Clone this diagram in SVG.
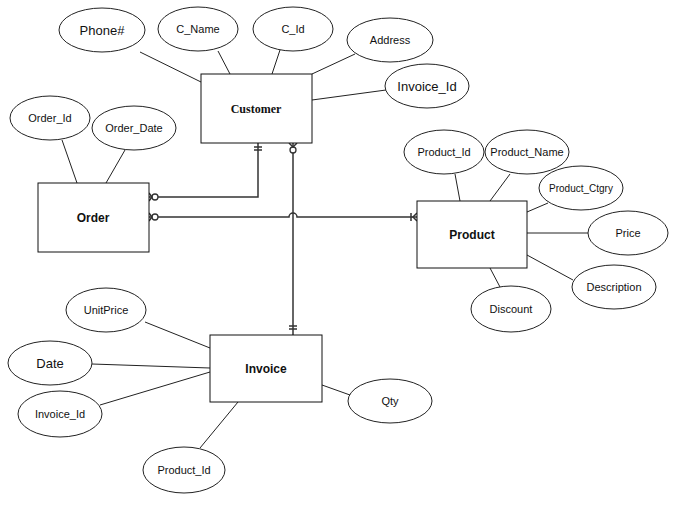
<svg xmlns="http://www.w3.org/2000/svg" width="681" height="525" viewBox="0 0 681 525">
<style>
.e{fill:#fff;stroke:#222;stroke-width:1}
.r{fill:#fff;stroke:#111;stroke-width:1}
.l{stroke:#222;stroke-width:1;fill:none}
.c{stroke:#333;stroke-width:1.5;fill:none}
text{font-family:"Liberation Sans",Arial,sans-serif;font-size:11px;text-anchor:middle;dominant-baseline:central;fill:#111}
.b{font-weight:bold;font-size:12px}
.s{font-family:"Liberation Serif","Times New Roman",serif;font-weight:bold;font-size:12px}
.m{font-size:13px}
</style>
<rect width="681" height="525" fill="#fff"/>
<g id="attr-lines">
<path class="l" d="M140,52L201,82M218,51L230,74M280,50L272,74M355,54L312,74M386,90L312,100M62,140L77,183M125,150L106,183M455,174L460,201M510,174L490,201M548,203L527,212M588,233L527,233M573,280L527,255M500,287L490,268M145,322L210,348M92,364L210,368M100,405L210,372M350,395L322,385M200,448L238,402"/>
</g>
<g id="connectors">
<path class="c" d="M258,143V197H149"/>
<path class="c" d="M293,143V335"/>
<path class="c" d="M149,217H289A4,4 0 0 1 297,217H417"/>
<path class="c" d="M254,147H262M254,150H262"/>
<path class="c" d="M289,329H297M289,326H297"/>
<circle cx="155" cy="197" r="3" fill="#fff" stroke="#333" stroke-width="1.3"/>
<path class="c" d="M149,193L152,197L149,201"/>
<circle cx="155" cy="217" r="3" fill="#fff" stroke="#333" stroke-width="1.3"/>
<path class="c" d="M149,213L152,217L149,221"/>
<circle cx="293" cy="150" r="3" fill="#fff" stroke="#333" stroke-width="1.3"/>
<path class="c" d="M289,143L293,147L297,143"/>
<path class="c" d="M411,213V221M417,213L413,217L417,221"/>
</g>
<g id="customer"><rect class="r" x="201" y="74" width="111" height="69"/><text class="s" x="256" y="109">Customer</text></g>
<g id="order"><rect class="r" x="38" y="183" width="111" height="69"/><text class="b" x="93" y="218">Order</text></g>
<g id="product"><rect class="r" x="417" y="201" width="110" height="67"/><text class="b" x="472" y="235">Product</text></g>
<g id="invoice"><rect class="r" x="210" y="335" width="112" height="67"/><text class="b" x="266" y="369">Invoice</text></g>
<g id="phone"><ellipse class="e" cx="102" cy="30" rx="43" ry="22"/><text class="m" x="102" y="30">Phone#</text></g>
<g id="cname"><ellipse class="e" cx="198" cy="29" rx="40" ry="22"/><text x="198" y="29">C_Name</text></g>
<g id="cid"><ellipse class="e" cx="293" cy="29" rx="40" ry="22"/><text x="293" y="29">C_Id</text></g>
<g id="address"><ellipse class="e" cx="390" cy="40" rx="43" ry="22"/><text x="390" y="40">Address</text></g>
<g id="cinvoice"><ellipse class="e" cx="427" cy="86" rx="42" ry="22"/><text class="m" x="427" y="86">Invoice_Id</text></g>
<g id="orderid"><ellipse class="e" cx="50" cy="118" rx="40" ry="22"/><text x="50" y="118">Order_Id</text></g>
<g id="orderdate"><ellipse class="e" cx="134" cy="128" rx="42" ry="22"/><text x="134" y="128">Order_Date</text></g>
<g id="productid"><ellipse class="e" cx="444" cy="152" rx="40" ry="22"/><text x="444" y="152">Product_Id</text></g>
<g id="productname"><ellipse class="e" cx="527" cy="152" rx="42" ry="22"/><text x="527" y="152">Product_Name</text></g>
<g id="productctgry"><ellipse class="e" cx="581" cy="188" rx="42" ry="22"/><text x="581" y="188" style="font-size:10px">Product_Ctgry</text></g>
<g id="price"><ellipse class="e" cx="628" cy="233" rx="40" ry="22"/><text x="628" y="233">Price</text></g>
<g id="description"><ellipse class="e" cx="614" cy="287" rx="42" ry="22"/><text x="614" y="287">Description</text></g>
<g id="discount"><ellipse class="e" cx="511" cy="309" rx="40" ry="23"/><text x="511" y="309">Discount</text></g>
<g id="unitprice"><ellipse class="e" cx="106" cy="310" rx="40" ry="22"/><text x="106" y="310">UnitPrice</text></g>
<g id="date"><ellipse class="e" cx="50" cy="363" rx="42" ry="22"/><text class="m" x="50" y="363">Date</text></g>
<g id="iinvoice"><ellipse class="e" cx="60" cy="414" rx="42" ry="23"/><text x="60" y="414">Invoice_Id</text></g>
<g id="qty"><ellipse class="e" cx="390" cy="401" rx="42" ry="22"/><text x="390" y="401">Qty</text></g>
<g id="iproductid"><ellipse class="e" cx="184" cy="470" rx="41" ry="23"/><text x="184" y="470">Product_Id</text></g>
</svg>
